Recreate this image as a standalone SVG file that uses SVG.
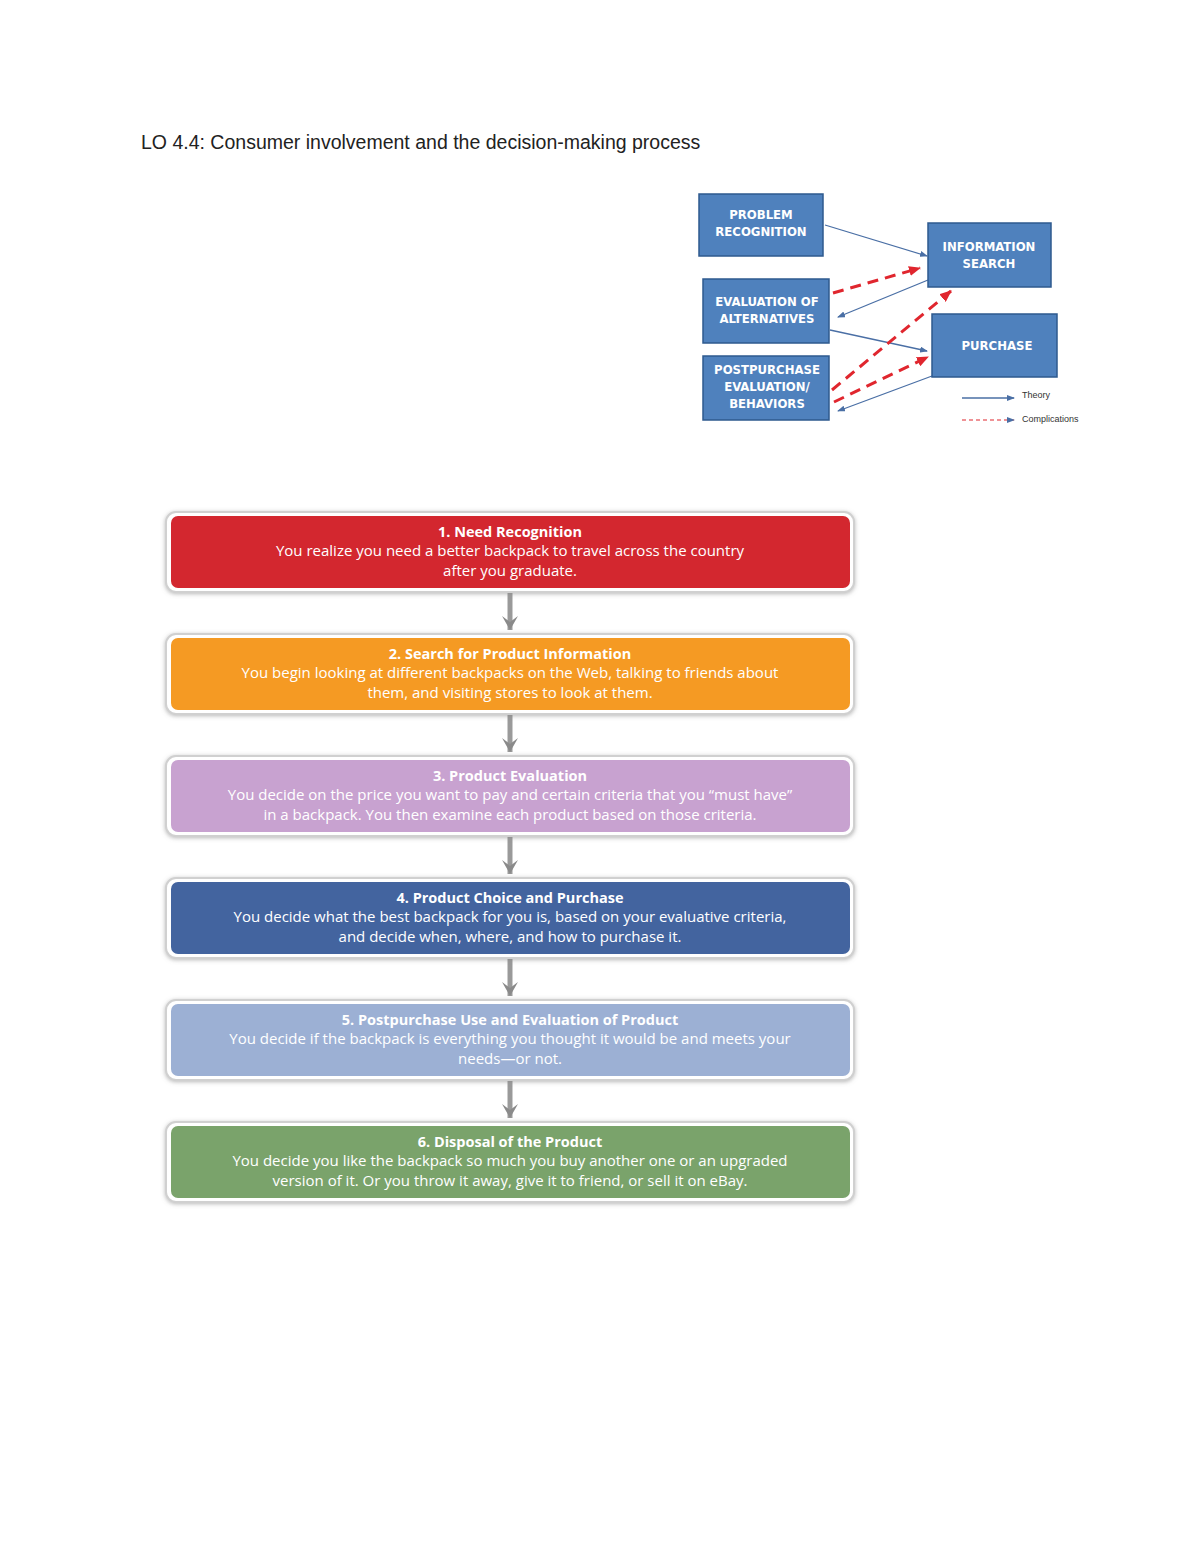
<svg xmlns="http://www.w3.org/2000/svg" width="1200" height="1553" viewBox="0 0 1200 1553">
<style>
.t{font-family:"Liberation Sans",Arial,sans-serif}
.nb{fill:#4f81bd;stroke:#2e5a8e;stroke-width:1.5}
.nt{font-family:"DejaVu Sans Condensed","DejaVu Sans",sans-serif;font-size:13px;fill:#fff;text-anchor:middle;font-weight:bold}
.th{stroke:#4a6fa5;stroke-width:1.3;fill:none}
.cp{stroke:#e0262e;stroke-width:3;stroke-dasharray:11 7;fill:none}
.outer{fill:#fff;stroke:#d0d0d0;stroke-width:2}
.h{font-family:"Open Sans",sans-serif;font-size:14.5px;font-weight:bold;fill:#fff;text-anchor:middle}
.b{font-family:"Open Sans",sans-serif;font-size:15px;fill:#fff;text-anchor:middle}
.ga{stroke:#9a9a9a;stroke-width:5}
</style>
<defs>
<marker id="ab" markerWidth="8" markerHeight="6" refX="7" refY="3" orient="auto" markerUnits="userSpaceOnUse"><path d="M0,0L8,3L0,6z" fill="#4a6fa5"/></marker>
<marker id="ar" markerWidth="12" markerHeight="10" refX="11" refY="5" orient="auto" markerUnits="userSpaceOnUse"><path d="M0,0L12,5L0,10z" fill="#e0262e"/></marker>
<marker id="ag" markerWidth="16" markerHeight="18" refX="14" refY="8" orient="auto" markerUnits="userSpaceOnUse"><path d="M0,0L6,8L0,16L14,8z" fill="#8a8a8a"/></marker>
<filter id="sh" x="-5%" y="-20%" width="110%" height="140%"><feDropShadow dx="0" dy="1" stdDeviation="2" flood-color="#888" flood-opacity="0.6"/></filter>
</defs>
<rect width="1200" height="1553" fill="#fff"/>
<text class="t" x="141" y="149" font-size="19.5" fill="#222">LO 4.4: Consumer involvement and the decision-making process</text>

<g id="connectors-top">
<line class="th" x1="825" y1="225" x2="927" y2="256" marker-end="url(#ab)"/>
<line class="th" x1="928" y1="280" x2="838" y2="317" marker-end="url(#ab)"/>
<line class="th" x1="830" y1="330" x2="927" y2="351" marker-end="url(#ab)"/>
<line class="th" x1="932" y1="376" x2="838" y2="411" marker-end="url(#ab)"/>
<line class="cp" x1="833" y1="293" x2="920" y2="268" marker-end="url(#ar)"/>
<line class="cp" x1="832" y1="390" x2="951" y2="291" marker-end="url(#ar)"/>
<line class="cp" x1="834" y1="402" x2="928" y2="357" marker-end="url(#ar)"/>
</g>
<g id="n-pr"><rect class="nb" x="699" y="194" width="124" height="62"/><text class="nt" x="761" y="219">PROBLEM</text><text class="nt" x="761" y="236">RECOGNITION</text></g>
<g id="n-is"><rect class="nb" x="928" y="223" width="123" height="64"/><text class="nt" x="989" y="251">INFORMATION</text><text class="nt" x="989" y="268">SEARCH</text></g>
<g id="n-ev"><rect class="nb" x="703" y="279" width="126" height="64"/><text class="nt" x="767" y="306">EVALUATION OF</text><text class="nt" x="767" y="323">ALTERNATIVES</text></g>
<g id="n-pu"><rect class="nb" x="932" y="314" width="125" height="63"/><text class="nt" x="997" y="350">PURCHASE</text></g>
<g id="n-po"><rect class="nb" x="703" y="356" width="126" height="64"/><text class="nt" x="767" y="374">POSTPURCHASE</text><text class="nt" x="767" y="391">EVALUATION/</text><text class="nt" x="767" y="408">BEHAVIORS</text></g>
<g id="legend">
<line class="th" x1="962" y1="398" x2="1014" y2="398" marker-end="url(#ab)"/>
<text class="t" x="1022" y="398" font-size="9" fill="#333">Theory</text>
<line stroke="#e0262e" stroke-width="1.2" stroke-dasharray="4 3" x1="962" y1="420" x2="1014" y2="420" marker-end="url(#ab)"/>
<text class="t" x="1022" y="422" font-size="9" fill="#333">Complications</text>
</g>

<g id="connectors">
<line class="ga" x1="510" y1="592" x2="510" y2="630" marker-end="url(#ag)"/>
<line class="ga" x1="510" y1="714" x2="510" y2="752" marker-end="url(#ag)"/>
<line class="ga" x1="510" y1="836" x2="510" y2="874" marker-end="url(#ag)"/>
<line class="ga" x1="510" y1="958" x2="510" y2="996" marker-end="url(#ag)"/>
<line class="ga" x1="510" y1="1080" x2="510" y2="1118" marker-end="url(#ag)"/>
</g>

<g id="s1"><rect class="outer" filter="url(#sh)" x="166" y="512" width="688" height="80" rx="10"/><rect x="171" y="516" width="679" height="72" rx="7" fill="#d3272f"/>
<text class="h" x="510" y="537">1. Need Recognition</text><text class="b" x="510" y="556">You realize you need a better backpack to travel across the country</text><text class="b" x="510" y="576">after you graduate.</text></g>
<g id="s2"><rect class="outer" filter="url(#sh)" x="166" y="634" width="688" height="80" rx="10"/><rect x="171" y="638" width="679" height="72" rx="7" fill="#f59a23"/>
<text class="h" x="510" y="659">2. Search for Product Information</text><text class="b" x="510" y="678">You begin looking at different backpacks on the Web, talking to friends about</text><text class="b" x="510" y="698">them, and visiting stores to look at them.</text></g>
<g id="s3"><rect class="outer" filter="url(#sh)" x="166" y="756" width="688" height="80" rx="10"/><rect x="171" y="760" width="679" height="72" rx="7" fill="#c8a2d0"/>
<text class="h" x="510" y="781">3. Product Evaluation</text><text class="b" x="510" y="800">You decide on the price you want to pay and certain criteria that you “must have”</text><text class="b" x="510" y="820">in a backpack. You then examine each product based on those criteria.</text></g>
<g id="s4"><rect class="outer" filter="url(#sh)" x="166" y="878" width="688" height="80" rx="10"/><rect x="171" y="882" width="679" height="72" rx="7" fill="#43649f"/>
<text class="h" x="510" y="903">4. Product Choice and Purchase</text><text class="b" x="510" y="922">You decide what the best backpack for you is, based on your evaluative criteria,</text><text class="b" x="510" y="942">and decide when, where, and how to purchase it.</text></g>
<g id="s5"><rect class="outer" filter="url(#sh)" x="166" y="1000" width="688" height="80" rx="10"/><rect x="171" y="1004" width="679" height="72" rx="7" fill="#9cb0d4"/>
<text class="h" x="510" y="1025">5. Postpurchase Use and Evaluation of Product</text><text class="b" x="510" y="1044">You decide if the backpack is everything you thought it would be and meets your</text><text class="b" x="510" y="1064">needs—or not.</text></g>
<g id="s6"><rect class="outer" filter="url(#sh)" x="166" y="1122" width="688" height="80" rx="10"/><rect x="171" y="1126" width="679" height="72" rx="7" fill="#7aa36b"/>
<text class="h" x="510" y="1147">6. Disposal of the Product</text><text class="b" x="510" y="1166">You decide you like the backpack so much you buy another one or an upgraded</text><text class="b" x="510" y="1186">version of it. Or you throw it away, give it to friend, or sell it on eBay.</text></g>
</svg>
